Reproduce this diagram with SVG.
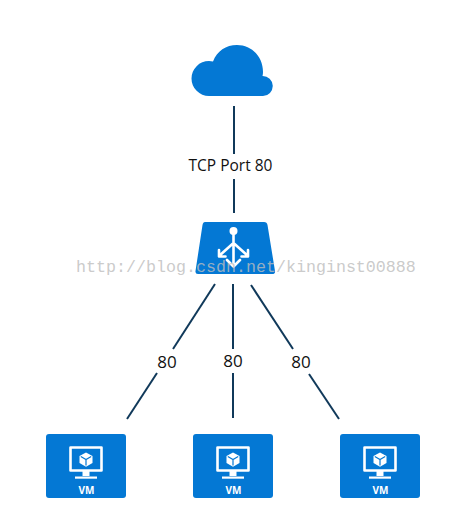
<svg xmlns="http://www.w3.org/2000/svg" width="472" height="512" viewBox="0 0 472 512">
<defs>
<style>
.c{stroke:#10395a;stroke-width:2;fill:none}
.b{fill:#0478d4}
.w{fill:#fff}
.wl{stroke:#fff;fill:none;stroke-linecap:round;stroke-linejoin:round}
.t{font-family:"Open Sans","Noto Sans",sans-serif;fill:#111}
.wm{font-family:"Liberation Mono","DejaVu Sans Mono",monospace;font-size:16.670px;fill:#bdbdbd;fill-opacity:.8}
</style>
<g id="vmicon">
<rect class="b" x="0" y="0" width="80" height="64" rx="3"/>
<rect x="24.500" y="13.500" width="31" height="23" class="wl" stroke-width="2.600"/>
<path class="w" d="M36.500 37h7v5h-7z"/>
<path class="w" d="M29 42.500h22v2.200h-22z"/>
<path class="w" d="M40 18.500l6.500 3.500v7l-6.500 3.700-6.500-3.700v-7z"/>
<path d="M34.800 22.600l5.200 2.900 5.200-2.900M40 25.500v6" stroke="#0478d4" stroke-width="1.200" fill="none"/>
<text x="40.500" y="60" text-anchor="middle" font-family="'Open Sans','Noto Sans',sans-serif" font-weight="700" font-size="10" fill="#fff">VM</text>
</g>
</defs>
<rect width="472" height="512" fill="#fff"/>
<g id="connectors">
<path class="c" d="M234 106V154"/>
<path class="c" d="M234 179V213"/>
<path class="c" d="M215 284L173 349"/>
<path class="c" d="M157 373L127 419"/>
<path class="c" d="M233 284V349"/>
<path class="c" d="M233 373V418"/>
<path class="c" d="M251 285L293 349"/>
<path class="c" d="M309 374L339 419"/>
</g>
<g id="cloud">
<path class="b" d="M209 96A17.500 17.500 0 0 1 209 61Q211 61 213 61.500C217 51 226 45 237 45C252 45 263 57 263 72Q263 74 262.500 76A10 10 0 0 1 263 96Z"/>
</g>
<g id="load-balancer">
<path class="b" d="M205 222H264Q267 222 267.500 225L275 271Q275.500 274 272 274H198Q195 274 195.500 271L202.500 225Q203 222 205 222Z"/>
<circle class="w" cx="233.500" cy="231" r="4"/>
<path class="wl" stroke-width="2.600" d="M233.500 234V266M233.500 243L219 256M233.500 243L248 256M219 250V256.500H225.500M248 250V256.500H241.500M227 260L233.500 266.500L240 260"/>
</g>
<g id="vm1"><use href="#vmicon" x="46" y="434"/></g>
<g id="vm2"><use href="#vmicon" x="193" y="434"/></g>
<g id="vm3"><use href="#vmicon" x="340" y="434"/></g>
<g id="labels">
<text class="t" x="230.500" y="171" text-anchor="middle" font-size="15.500">TCP Port 80</text>
<text class="t" x="167" y="368" text-anchor="middle" font-size="17">80</text>
<text class="t" x="233" y="367" text-anchor="middle" font-size="17">80</text>
<text class="t" x="301" y="368" text-anchor="middle" font-size="17">80</text>
</g>
<text class="wm" x="76" y="272">http://blog.csdn.net/kinginst00888</text>
</svg>
